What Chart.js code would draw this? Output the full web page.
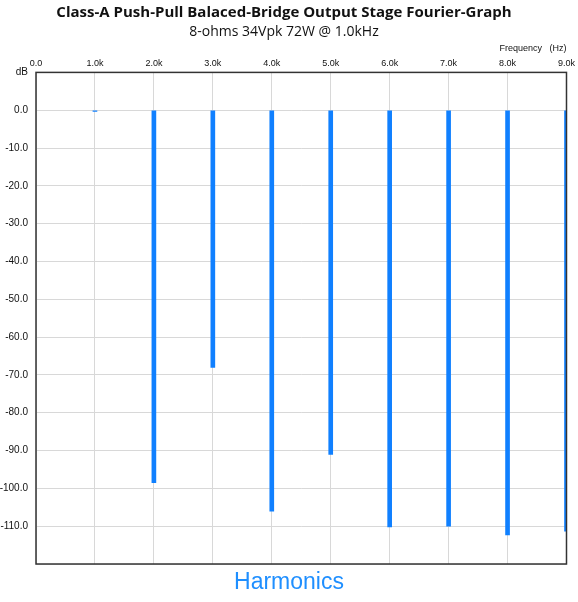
<!DOCTYPE html>
<html><head><meta charset="utf-8">
<script src="https://cdn.jsdelivr.net/npm/chart.js@4"></script>
<style>body{margin:0;background:#fff;font-family:"Open Sans",sans-serif}
#w{position:relative;width:578px;height:602px}
#h{position:absolute;left:0;width:578px;top:568px;text-align:center;color:#1f8fff;font-size:23px;font-family:Arial,"Liberation Sans",sans-serif}</style>
</head><body><div id="w"><canvas id="c" width="578" height="578" style="width:578px;height:578px"></canvas><div id="h">Harmonics</div></div>
<script>
const freqs=[1000,2000,3000,4000,5000,6000,7000,8000,9000];
const levels=[-0.3,-98.5,-68,-106,-91,-110.2,-110,-112.3,-111.3];
const xTicks=[0,1000,2000,3000,4000,5000,6000,7000,8000,9000];
const boxPlugin={id:'box',afterDraw(ch){const a=ch.chartArea,c=ch.ctx;c.save();c.strokeStyle='#333';c.lineWidth=1.5;c.strokeRect(a.left,a.top,a.right-a.left,a.bottom-a.top);c.restore();}};
new Chart(document.getElementById('c'),{type:'bar',
data:{datasets:[{data:freqs.map((f,i)=>({x:f,y:[0,levels[i]]})),backgroundColor:'#1080ff',barThickness:4,borderSkipped:false}]},
options:{responsive:false,animation:false,layout:{padding:{left:0,right:10,top:4,bottom:6}},
plugins:{legend:{display:false},tooltip:{enabled:false},
title:{display:true,text:'Class-A Push-Pull Balaced-Bridge Output Stage Fourier-Graph',color:'#111',font:{size:15,weight:'bold',family:'Open Sans'},padding:{top:0,bottom:2}},
subtitle:{display:true,text:'8-ohms 34Vpk 72W @ 1.0kHz',color:'#111',font:{size:14,family:'Open Sans'},padding:{bottom:2}}},
scales:{x:{type:'linear',position:'top',offset:false,min:0,max:9000,afterBuildTicks:ax=>{ax.ticks=xTicks.map(v=>({value:v}))},
ticks:{color:'#111',font:{size:9,family:'Liberation Sans'},padding:3,callback:v=>v===0?'0.0':(v/1000).toFixed(1)+'k'},
grid:{color:'#d8d8d8',drawTicks:false,offset:false},border:{display:false},
title:{display:true,text:'Frequency   (Hz)',align:'end',color:'#111',font:{size:9,family:'Liberation Sans'},padding:{top:0,bottom:2}}},
y:{min:-120,max:10,afterBuildTicks:ax=>{const t=[];for(let v=10;v>=-120;v-=10)t.push({value:v});ax.ticks=t},
ticks:{color:'#111',font:{size:10,family:'Liberation Sans'},padding:8,callback:v=>v===10?'dB':v===-120?'':v.toFixed(1)},
grid:{color:'#d8d8d8',drawTicks:false},border:{display:false},afterFit:ax=>{ax.width=36}}}},
plugins:[boxPlugin]});
</script></body></html>
